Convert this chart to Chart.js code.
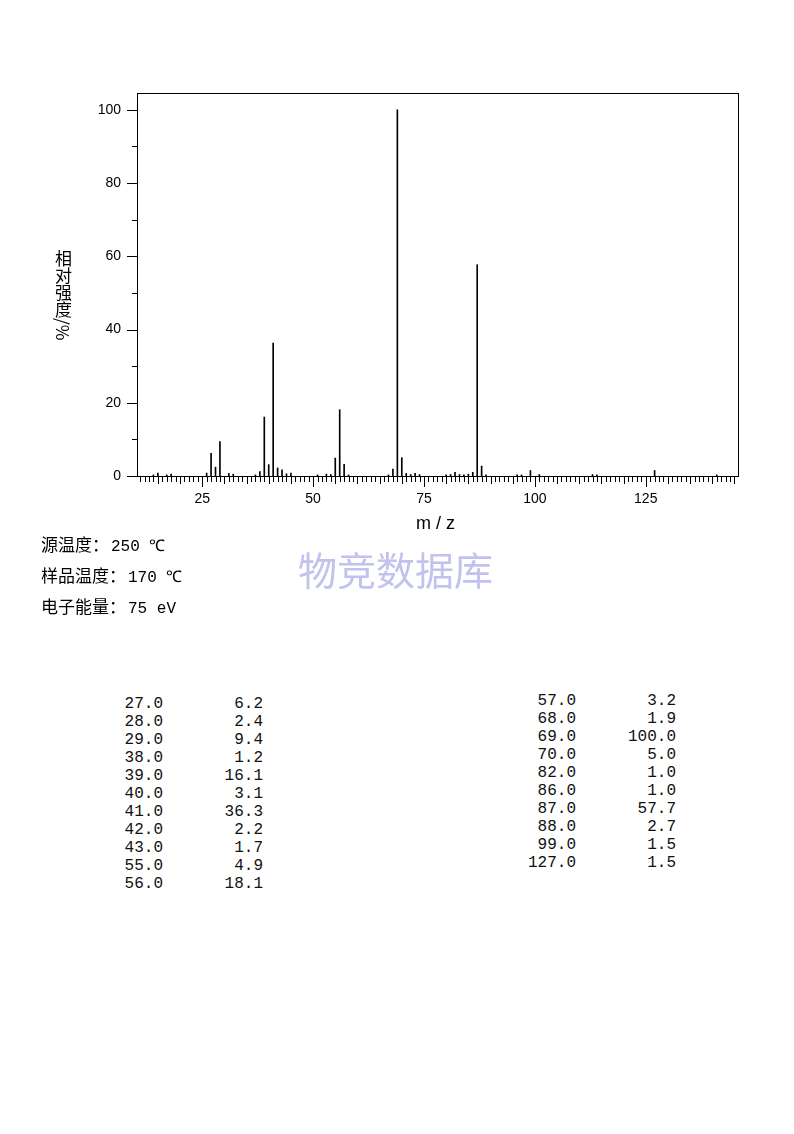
<!DOCTYPE html>
<html>
<head>
<meta charset="utf-8">
<script src="https://cdn.jsdelivr.net/npm/chart.js@4.4.0/dist/chart.umd.min.js"></script>
<style>
  body { margin: 0; background: #fff; width: 794px; height: 1134px; position: relative; overflow: hidden; }
  #chart { position: absolute; left: 0; top: 0; }
  .abs { position: absolute; white-space: pre; color: #000; }
  #ylab { left: 55px; top: 250px; font: 17px "Noto Sans CJK SC"; line-height: 17px; writing-mode: vertical-rl; }
  #xlab { left: 416px; top: 513px; font: 18px "Liberation Sans"; letter-spacing: 5px; }
  .info { left: 41px; font-size: 17px; font-family: "Noto Sans CJK SC"; line-height: 20px; }
  .info i { font-style: normal; margin-right: 2px; }
  .info b { font-weight: normal; font-family: "Liberation Mono"; font-size: 16px; }
  #mark { left: 298px; top: 546px; font: 39px "Noto Sans CJK SC"; line-height: 44px; color: #c2c2ee; }
  .col { font: 16px "Liberation Mono"; line-height: 18px; color: #111; }
  .col div span { display: inline-block; text-align: right; }
  .col div span.a { width: 63px; }
  .col div span.b { width: 100px; }
</style>
</head>
<body>
<canvas id="chart" width="794" height="560"></canvas>
<div class="abs" id="ylab">相对强度/%</div>
<div class="abs" id="xlab">m/z</div>
<div class="abs info" style="top:534px">源温度<i>：</i><b>250 ℃</b></div>
<div class="abs info" style="top:565px">样品温度<i>：</i><b>170 ℃</b></div>
<div class="abs info" style="top:596px">电子能量<i>：</i><b>75 eV</b></div>
<div class="abs" id="mark">物竞数据库</div>
<div class="abs col" id="colL" style="left:100px; top:695px"></div>
<div class="abs col" id="colR" style="left:513px; top:692px"></div>
<script>
// 질량 스펙트럼 데이터 (m/z, 상대강도 %)
var mz = [14, 15, 17, 18, 26, 27, 28, 29, 31, 32, 37, 38, 39, 40, 41, 42, 43, 44, 45,
          51, 53, 54, 55, 56, 57, 58, 67, 68, 69, 70, 71, 72, 73, 74,
          80, 81, 82, 83, 84, 85, 86, 87, 88, 89, 96, 97, 99, 101, 113, 114, 127, 141];
var intensity = [0.3, 0.8, 0.3, 0.5, 0.8, 6.2, 2.4, 9.4, 0.7, 0.5, 0.3, 1.2, 16.1, 3.1, 36.3, 2.2, 1.7, 0.6, 0.8,
                 0.3, 0.5, 0.4, 4.9, 18.1, 3.2, 0.3, 0.3, 1.9, 100.0, 5.0, 0.7, 0.4, 0.7, 0.4,
                 0.3, 0.4, 1.0, 0.4, 0.3, 0.5, 1.0, 57.7, 2.7, 0.3, 0.3, 0.3, 1.5, 0.4, 0.4, 0.3, 1.5, 0.3];
var xTicks = [25, 50, 75, 100, 125];
var yTicks = [0, 20, 40, 60, 80, 100];

var points = [];
for (var i = 0; i < mz.length; i++) points.push({ x: mz[i], y: intensity[i] });

// 표 (1% 이상 피크)
var rows = [];
for (var i = 0; i < mz.length; i++) {
  if (intensity[i] >= 1) rows.push('<div><span class="a">' + mz[i].toFixed(1) + '</span><span class="b">' + intensity[i].toFixed(1) + '</span></div>');
}
document.getElementById("colL").innerHTML = rows.slice(0, 11).join("");
document.getElementById("colR").innerHTML = rows.slice(11).join("");

// 틱 + 테두리 그리기
var frameTicks = {
  id: "frameTicks",
  afterDraw: function(chart) {
    var ctx = chart.ctx, a = chart.chartArea, sx = chart.scales.x, sy = chart.scales.y;
    ctx.save();
    ctx.strokeStyle = "#000";
    ctx.lineWidth = 1;
    ctx.strokeRect(Math.round(a.left) + 0.5, Math.round(a.top) + 0.5, Math.round(a.right - a.left), Math.round(a.bottom - a.top));
    ctx.beginPath();
    for (var v = Math.ceil(sx.min); v <= Math.floor(sx.max); v++) {
      var px = Math.round(sx.getPixelForValue(v)) + 0.5;
      var len = v % 25 == 0 ? 11 : (v % 5 == 0 ? 8 : 6);
      ctx.moveTo(px, a.bottom);
      ctx.lineTo(px, a.bottom + len);
    }
    for (var v = 0; v <= sy.max; v += 10) {
      var py = Math.round(sy.getPixelForValue(v)) + 0.5;
      var len = v % 20 == 0 ? 10 : 5;
      ctx.moveTo(a.left, py);
      ctx.lineTo(a.left - len, py);
    }
    ctx.stroke();
    ctx.restore();
  }
};

new Chart(document.getElementById("chart"), {
  type: "bar",
  data: {
    datasets: [{
      data: points,
      backgroundColor: "#000",
      borderWidth: 0,
      barThickness: 1
    }]
  },
  options: {
    responsive: false,
    animation: false,
    devicePixelRatio: 1,
    layout: { padding: { left: 0, top: 93, right: 56, bottom: 0 } },
    plugins: { legend: { display: false }, tooltip: { enabled: false } },
    scales: {
      x: {
        type: "linear",
        min: 10.3,
        max: 145.8,
        offset: false,
        grid: { display: false, offset: false },
        border: { display: false },
        afterBuildTicks: function(axis) { axis.ticks = xTicks.map(function(v) { return { value: v }; }); },
        afterFit: function(scale) { scale.height = 84; },
        ticks: { color: "#000", font: { family: "Liberation Sans", size: 14 }, padding: 7, maxRotation: 0 }
      },
      y: {
        min: 0,
        max: 104.6,
        grid: { display: false },
        border: { display: false },
        afterBuildTicks: function(axis) { axis.ticks = yTicks.map(function(v) { return { value: v }; }); },
        afterFit: function(scale) { scale.width = 137; },
        ticks: { color: "#000", font: { family: "Liberation Sans", size: 14 }, padding: 8 }
      }
    }
  },
  plugins: [frameTicks]
});
</script>
</body>
</html>
